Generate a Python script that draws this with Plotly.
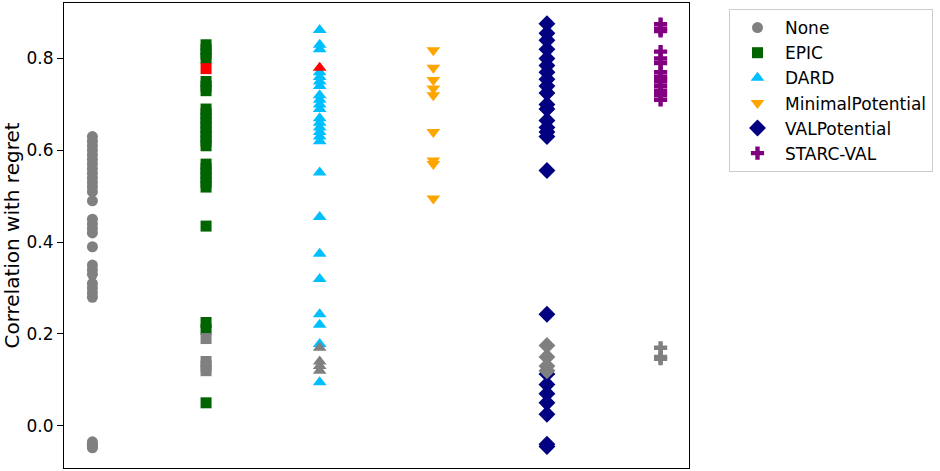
import plotly.graph_objects as go

# one column per method
methods = ["None", "EPIC", "DARD", "MinimalPotential", "VALPotential", "STARC-VAL"]
symbols = ["circle", "square", "triangle-up", "triangle-down", "diamond", "cross"]
colors = ["#808080", "#006400", "#00BFFF", "#FFA500", "#000080", "#800080"]
sizes = [11, 11, 12, 12, 13, 11]

none_vals = [0.63, 0.62, 0.61, 0.60, 0.59, 0.58, 0.57, 0.56, 0.55, 0.54, 0.53, 0.52,
             0.51, 0.49, 0.45, 0.44, 0.43, 0.42, 0.39, 0.35, 0.34, 0.33, 0.31, 0.30,
             0.29, 0.28, -0.035, -0.04, -0.045, -0.048]
epic_vals = [0.83, 0.82, 0.81, 0.80, 0.75, 0.74, 0.73, 0.69, 0.68, 0.67, 0.66, 0.65,
             0.64, 0.63, 0.62, 0.61, 0.57, 0.56, 0.55, 0.54, 0.53, 0.52, 0.435, 0.225,
             0.21, 0.05]
dard_vals = [0.862, 0.83, 0.82, 0.77, 0.76, 0.75, 0.74, 0.72, 0.71, 0.70, 0.69, 0.67,
             0.66, 0.65, 0.64, 0.63, 0.62, 0.552, 0.455, 0.375, 0.32, 0.243, 0.22,
             0.178, 0.095]
minpot_vals = [0.818, 0.78, 0.753, 0.735, 0.72, 0.64, 0.578, 0.57, 0.495]
valpot_vals = [0.876, 0.855, 0.84, 0.82, 0.80, 0.785, 0.77, 0.755, 0.74, 0.725, 0.70,
               0.69, 0.665, 0.65, 0.64, 0.63, 0.556, 0.243, 0.113, 0.09, 0.07, 0.05,
               0.025, -0.04, -0.045]
starc_vals = [0.875, 0.865, 0.86, 0.815, 0.80, 0.79, 0.77, 0.76, 0.755, 0.75, 0.74,
              0.73, 0.72, 0.71]
all_vals = [none_vals, epic_vals, dard_vals, minpot_vals, valpot_vals, starc_vals]

# grey points inside the other columns (the "None" reference values)
grey_vals = [[], [0.19, 0.14, 0.13, 0.12], [0.17, 0.14, 0.13, 0.12], [],
             [0.175, 0.15, 0.13, 0.12], [0.17, 0.15, 0.146]]
# red highlighted points
red_vals = [[], [0.778], [0.78], [], [], []]

fig = go.Figure()
for i, name in enumerate(methods):
    fig.add_trace(go.Scatter(
        x=[i] * len(all_vals[i]), y=all_vals[i], mode="markers", name=name,
        legendgroup=name,
        marker=dict(symbol=symbols[i], color=colors[i], size=sizes[i], line_width=0),
    ))
for i in range(len(methods)):
    if grey_vals[i]:
        fig.add_trace(go.Scatter(
            x=[i] * len(grey_vals[i]), y=grey_vals[i], mode="markers", showlegend=False,
            marker=dict(symbol=symbols[i], color="#808080", size=sizes[i], line_width=0),
        ))
    if red_vals[i]:
        fig.add_trace(go.Scatter(
            x=[i] * len(red_vals[i]), y=red_vals[i], mode="markers", showlegend=False,
            marker=dict(symbol=symbols[i], color="#FF0000", size=sizes[i], line_width=0),
        ))

fig.update_layout(
    width=940, height=471,
    margin=dict(l=64, r=251, t=3, b=3),
    plot_bgcolor="white", paper_bgcolor="white",
    font=dict(family="DejaVu Sans", size=17, color="black"),
    showlegend=True,
    legend=dict(x=1.064, y=0.987, xanchor="left", yanchor="top",
                bordercolor="#cccccc", borderwidth=1, tracegroupgap=7,
                itemwidth=45, traceorder="normal", font=dict(size=17)),
)
fig.update_xaxes(range=[-0.25, 5.25], showticklabels=False, ticks="",
                 showgrid=False, zeroline=False, showline=True, linecolor="black",
                 linewidth=1, mirror=True)
fig.update_yaxes(range=[-0.092, 0.921], tickvals=[0.0, 0.2, 0.4, 0.6, 0.8],
                 tickformat=".1f", ticks="outside", ticklen=6, tickcolor="black",
                 showgrid=False, zeroline=False, showline=True, linecolor="black",
                 linewidth=1, mirror=True,
                 title=dict(text="Correlation with regret", standoff=8))

# drop the browser's default page margin so the figure sits at (0, 0)
fig.write_html("out.html", config={"displayModeBar": False},
               post_script="document.body.style.margin='0';")
